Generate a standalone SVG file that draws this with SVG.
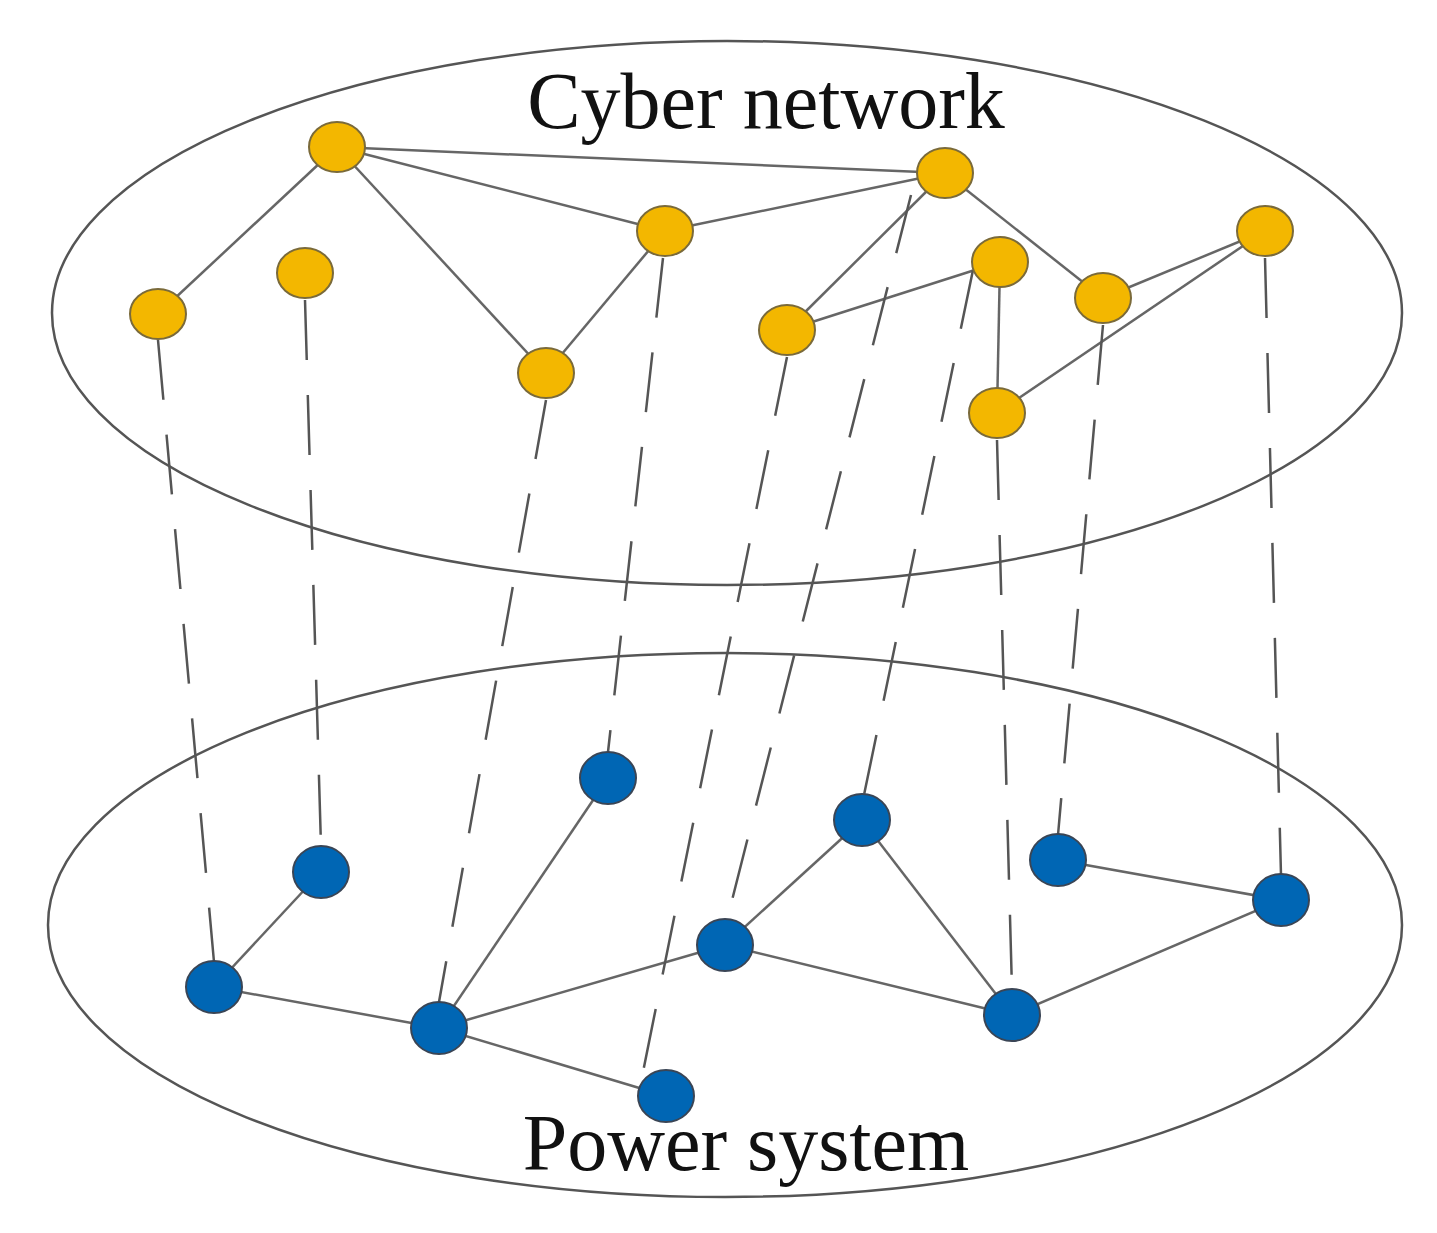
<svg xmlns="http://www.w3.org/2000/svg" width="1437" height="1233" viewBox="0 0 1437 1233">
<style>
.layer{fill:none;stroke:#555;stroke-width:2.5}
.e{stroke:#666;stroke-width:2.5;fill:none}
.d{stroke:#555;stroke-width:2.5;stroke-dasharray:60 35;fill:none}
.c{fill:#f3b700;stroke:#7a6a3a;stroke-width:2}
.p{fill:#0066b4;stroke:#3a4555;stroke-width:2}
.t{font-family:"Liberation Serif",serif;font-size:80px;fill:#111;text-anchor:middle}
</style>
<rect width="1437" height="1233" fill="#fff"/>
<ellipse class="layer" cx="727" cy="313" rx="675" ry="272"/>
<ellipse class="layer" cx="725" cy="925" rx="677" ry="272"/>
<g id="connectors">
<line class="e" x1="337" y1="147" x2="158" y2="314"/>
<line class="e" x1="337" y1="147" x2="945" y2="173"/>
<line class="e" x1="337" y1="147" x2="665" y2="231"/>
<line class="e" x1="337" y1="147" x2="546" y2="373"/>
<line class="e" x1="665" y1="231" x2="945" y2="173"/>
<line class="e" x1="665" y1="231" x2="546" y2="373"/>
<line class="e" x1="945" y1="173" x2="787" y2="330"/>
<line class="e" x1="945" y1="173" x2="1103" y2="298"/>
<line class="e" x1="1000" y1="262" x2="787" y2="330"/>
<line class="e" x1="1000" y1="262" x2="997" y2="413"/>
<line class="e" x1="1265" y1="231" x2="1103" y2="298"/>
<line class="e" x1="1265" y1="231" x2="997" y2="413"/>
<line class="e" x1="321" y1="872" x2="214" y2="987"/>
<line class="e" x1="214" y1="987" x2="439" y2="1028"/>
<line class="e" x1="439" y1="1028" x2="608" y2="778"/>
<line class="e" x1="439" y1="1028" x2="725" y2="945"/>
<line class="e" x1="439" y1="1028" x2="666" y2="1096"/>
<line class="e" x1="725" y1="945" x2="862" y2="820"/>
<line class="e" x1="725" y1="945" x2="1012" y2="1015"/>
<line class="e" x1="862" y1="820" x2="1012" y2="1015"/>
<line class="e" x1="1012" y1="1015" x2="1281" y2="900"/>
<line class="e" x1="1058" y1="860" x2="1281" y2="900"/>
<line class="d" x1="158" y1="340" x2="214" y2="962"/>
<line class="d" x1="305" y1="300" x2="321" y2="846"/>
<line class="d" x1="546" y1="400" x2="439" y2="1002"/>
<line class="d" x1="663" y1="258" x2="608" y2="752"/>
<line class="d" x1="787" y1="357" x2="643" y2="1072"/>
<line class="d" x1="911" y1="195" x2="727" y2="920"/>
<line class="d" x1="973" y1="270" x2="864" y2="795"/>
<line class="d" x1="997" y1="440" x2="1012" y2="990"/>
<line class="d" x1="1103" y1="325" x2="1058" y2="835"/>
<line class="d" x1="1265" y1="258" x2="1281" y2="875"/>
</g>
<g id="c1"><ellipse class="c" cx="337" cy="147" rx="28" ry="25"/></g>
<g id="c2"><ellipse class="c" cx="945" cy="173" rx="28" ry="25"/></g>
<g id="c3"><ellipse class="c" cx="665" cy="231" rx="28" ry="25"/></g>
<g id="c4"><ellipse class="c" cx="1000" cy="262" rx="28" ry="25"/></g>
<g id="c5"><ellipse class="c" cx="1265" cy="231" rx="28" ry="25"/></g>
<g id="c6"><ellipse class="c" cx="1103" cy="298" rx="28" ry="25"/></g>
<g id="c7"><ellipse class="c" cx="305" cy="273" rx="28" ry="25"/></g>
<g id="c8"><ellipse class="c" cx="158" cy="314" rx="28" ry="25"/></g>
<g id="c9"><ellipse class="c" cx="787" cy="330" rx="28" ry="25"/></g>
<g id="c10"><ellipse class="c" cx="546" cy="373" rx="28" ry="25"/></g>
<g id="c11"><ellipse class="c" cx="997" cy="413" rx="28" ry="25"/></g>
<g id="p1"><ellipse class="p" cx="608" cy="778" rx="28" ry="26"/></g>
<g id="p2"><ellipse class="p" cx="862" cy="820" rx="28" ry="26"/></g>
<g id="p3"><ellipse class="p" cx="1058" cy="860" rx="28" ry="26"/></g>
<g id="p4"><ellipse class="p" cx="321" cy="872" rx="28" ry="26"/></g>
<g id="p5"><ellipse class="p" cx="1281" cy="900" rx="28" ry="26"/></g>
<g id="p6"><ellipse class="p" cx="725" cy="945" rx="28" ry="26"/></g>
<g id="p7"><ellipse class="p" cx="214" cy="987" rx="28" ry="26"/></g>
<g id="p8"><ellipse class="p" cx="1012" cy="1015" rx="28" ry="26"/></g>
<g id="p9"><ellipse class="p" cx="439" cy="1028" rx="28" ry="26"/></g>
<g id="p10"><ellipse class="p" cx="666" cy="1096" rx="28" ry="26"/></g>
<text class="t" x="766" y="128">Cyber network</text>
<text class="t" x="746" y="1170">Power system</text>
</svg>
